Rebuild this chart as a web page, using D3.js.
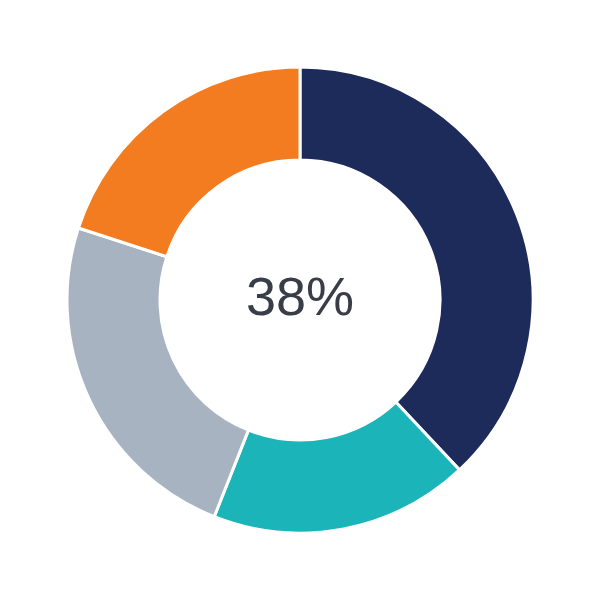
<!DOCTYPE html>
<html>
<head>
<meta charset="utf-8">
<script src="https://cdn.jsdelivr.net/npm/d3@7"></script>
<style>
html,body{margin:0;padding:0;background:#fff;}
svg{display:block;}
</style>
</head>
<body>
<svg id="chart" width="600" height="600"></svg>
<script>
const categories = ["A", "B", "C", "D"];
const values = [38, 18, 24, 20];
const colors = ["#1c2b5a", "#1bb4b8", "#a8b3c1", "#f47c20"];
const centerLabel = "38%";

const svg = d3.select("#chart");
const g = svg.append("g").attr("transform", "translate(300,300)");

const pie = d3.pie().sort(null).value(d => d.value);
const arc = d3.arc().innerRadius(140).outerRadius(233);

const data = categories.map((c, i) => ({cat: c, value: values[i], color: colors[i]}));

g.selectAll("path").data(pie(data)).join("path")
  .attr("d", arc)
  .attr("fill", d => d.data.color)
  .attr("stroke", "#fff")
  .attr("stroke-width", 3);

g.append("text")
  .attr("text-anchor", "middle")
  .attr("dy", "0.27em")
  .attr("font-family", "Liberation Sans, Arial, sans-serif")
  .attr("font-size", 54)
  .attr("fill", "#383d48")
  .text(centerLabel);
</script>
</body>
</html>
